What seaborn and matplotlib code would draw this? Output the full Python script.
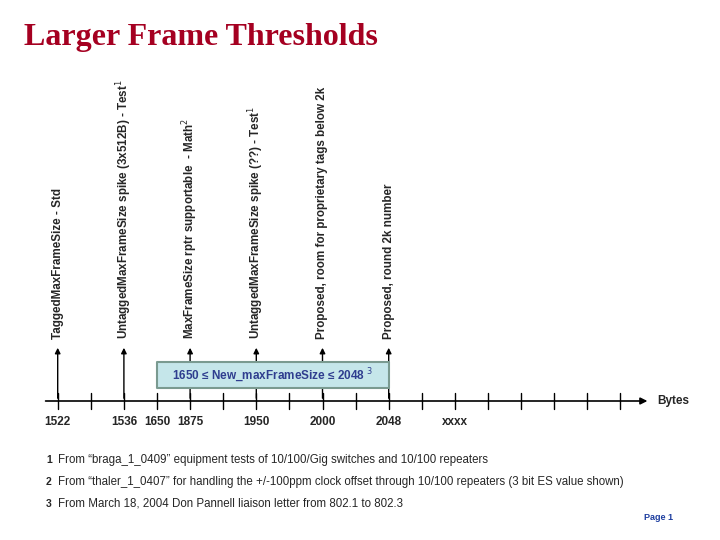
import matplotlib.pyplot as plt
import seaborn as sns

sns.set_theme(style="white")
plt.rcParams['font.family'] = ['Liberation Sans', 'DejaVu Sans']

# tick slots along the axis (index units)
n_ticks = 18
tick_labels = {0: '1522', 2: '1536', 3: '1650', 4: '1875', 6: '1950',
               8: '2000', 10: '2048', 12: 'xxxx'}
arrow_pos = [0, 2, 4, 6, 8, 10]
arrow_text = [
    'TaggedMaxFrameSize - Std',
    'UntaggedMaxFrameSize spike (3x512B) - Test$^{1}$',
    'MaxFrameSize rptr supportable  - Math$^{2}$',
    'UntaggedMaxFrameSize spike (??) - Test$^{1}$',
    'Proposed, room for proprietary tags below 2k',
    'Proposed, round 2k number',
]
box_range = (3, 10)
footnotes = [
    ('1', 'From \u201cbraga_1_0409\u201d equipment tests of 10/100/Gig switches and 10/100 repeaters'),
    ('2', 'From \u201cthaler_1_0407\u201d for handling the +/-100ppm clock offset through 10/100 repeaters (3 bit ES value shown)'),
    ('3', 'From March 18, 2004 Don Pannell liaison letter from 802.1 to 802.3'),
]

fig = plt.figure(figsize=(7.2, 5.4), dpi=100)
ax = fig.add_axes([0, 0, 1, 1])
x0, dx = 57.7, 33.1
ax.set_xlim(-x0 / dx, (720 - x0) / dx)
ax.set_ylim(540, 0)
ax.axis('off')

fig.text(0.033, 0.93, 'Larger Frame Thresholds', family='Liberation Serif',
         fontsize=23, fontweight='bold', color='#A50021', va='center')

axis_y = 401
ax.annotate('', xy=(17.9, axis_y), xytext=(-0.45, axis_y),
            arrowprops=dict(arrowstyle='-|>', color='black', lw=1.2, mutation_scale=10))
ax.text(18.1, axis_y, 'Bytes', fontsize=8.5, fontweight='bold', va='center')
for i in range(n_ticks):
    ax.plot([i, i], [axis_y - 8, axis_y + 8], color='black', lw=1)
for i, lab in tick_labels.items():
    ax.text(i, 422, lab, fontsize=8.5, fontweight='bold', ha='center', va='center')

ax.fill_between(box_range, 362, 388, color='#C5E6EA', edgecolor='#7A9A90', lw=1.5, zorder=4)
ax.text(sum(box_range) / 2, 376, '1650 \u2264 New_maxFrameSize \u2264 2048 $^{3}$',
        fontsize=8.5, fontweight='bold', color='#2F3E8F', ha='center', va='center', zorder=5)

for i, txt in zip(arrow_pos, arrow_text):
    ax.annotate('', xy=(i, 345), xytext=(i, axis_y),
                arrowprops=dict(arrowstyle='-|>', color='black', lw=1, mutation_scale=8), zorder=2)
    ax.text(i, 339, txt, rotation=90, fontsize=8.4, fontweight='bold', ha='center', va='bottom')

for k, (num, txt) in enumerate(footnotes):
    y = 460 + k * 22
    ax.text(-0.35, y, num, fontsize=7.5, fontweight='bold', va='center')
    ax.text(0, y, txt, fontsize=8.3, va='center')

ax.text(18.6, 518, 'Page 1', fontsize=6.5, color='#1F3FA0', fontweight='bold', ha='right', va='center')

fig.savefig('out.png', dpi=100)
